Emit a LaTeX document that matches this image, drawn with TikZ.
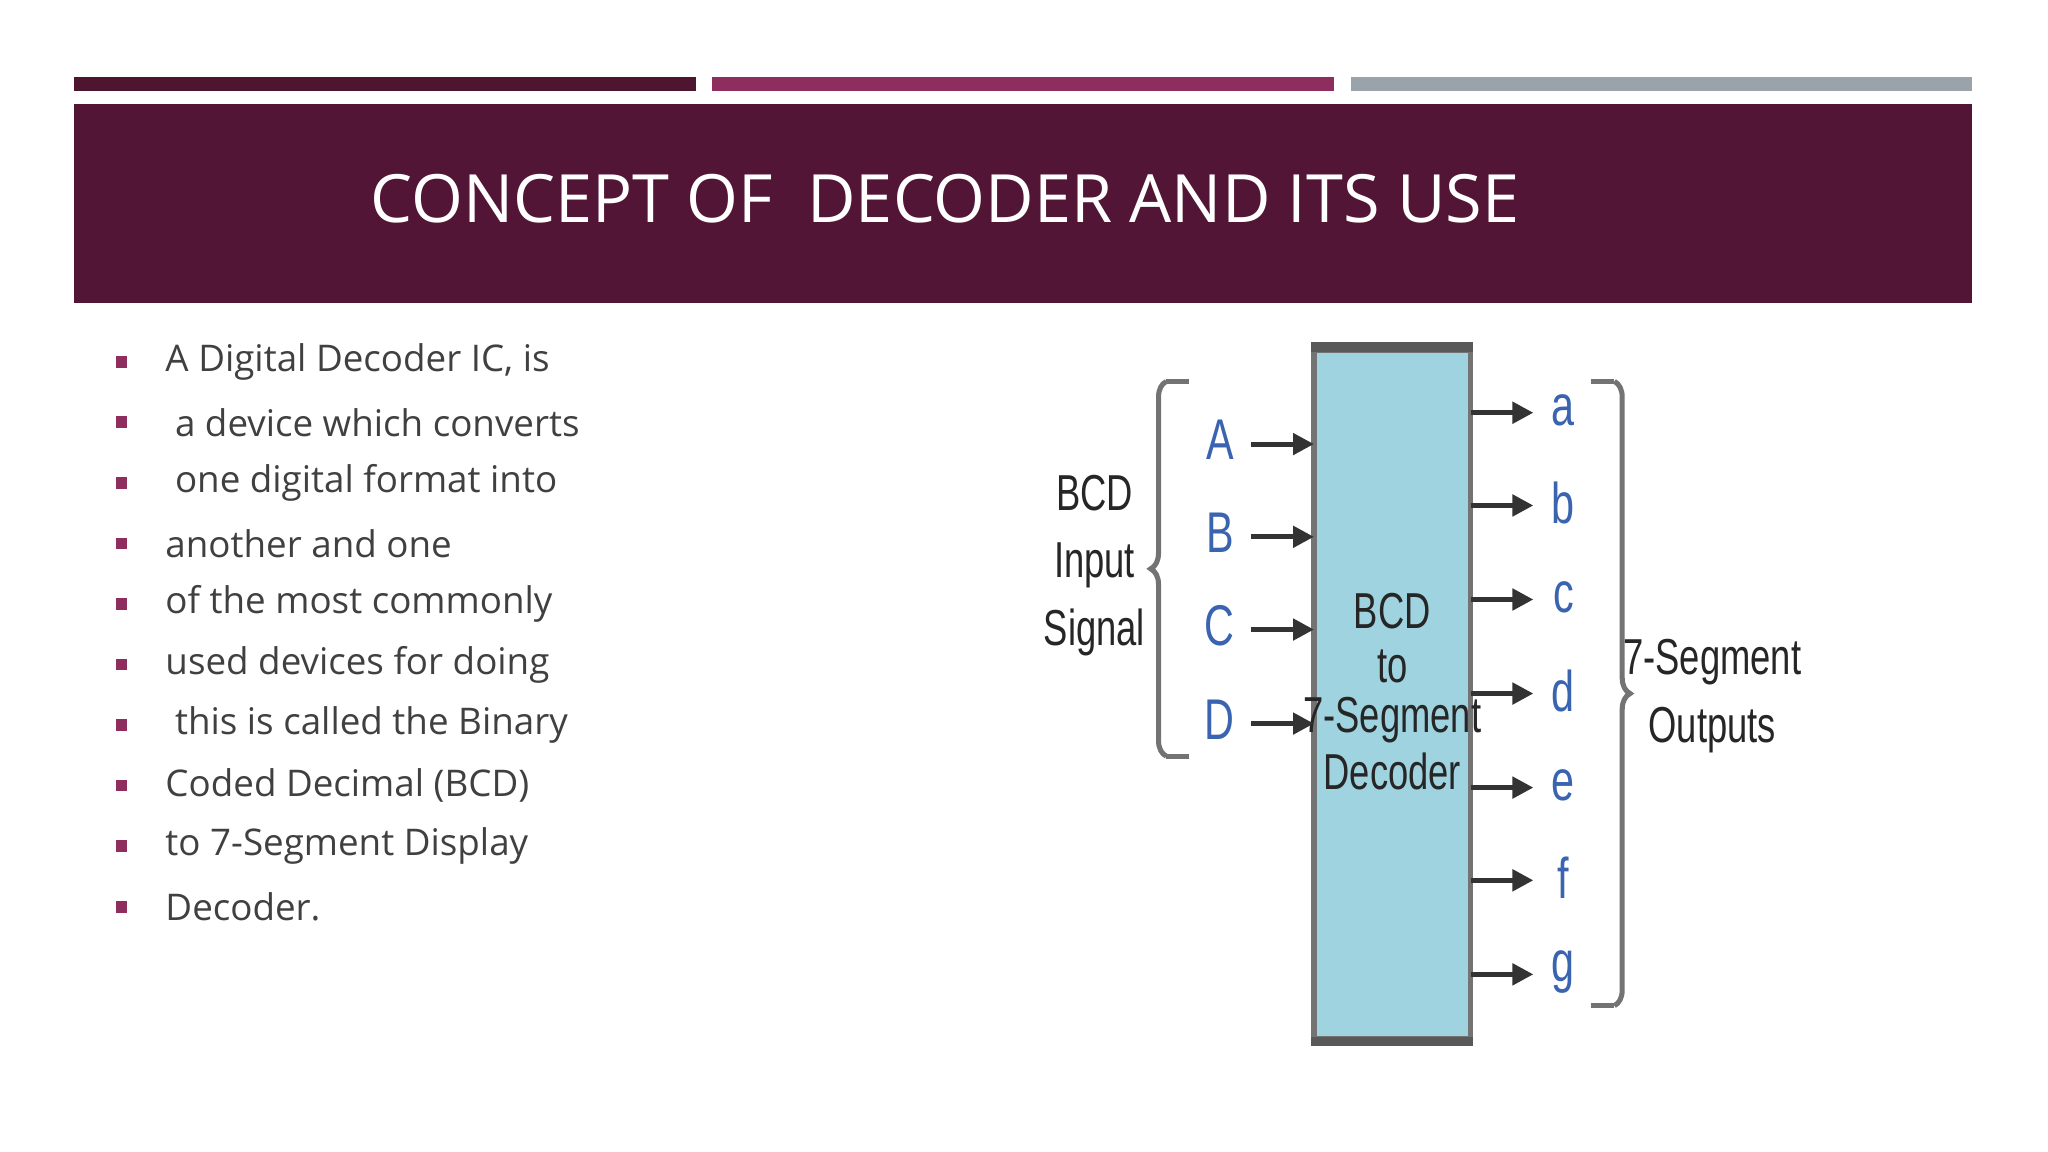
\documentclass[tikz,border=0pt]{standalone}
\usepackage{fontspec}
\setmainfont{Open Sans}
\newfontfamily\narrowf{Liberation Sans}
\usetikzlibrary{decorations.pathreplacing,arrows.meta}
\definecolor{maroon}{HTML}{521535}
\definecolor{bar1}{HTML}{4E1530}
\definecolor{bar2}{HTML}{8E2E5E}
\definecolor{bar3}{HTML}{9AA3AA}
\definecolor{boxfill}{HTML}{9FD3DF}
\definecolor{letblue}{HTML}{3A63B0}
\definecolor{bul}{HTML}{8E2E5E}
\definecolor{txt}{HTML}{404040}
\begin{document}
\begin{tikzpicture}[x=0.01cm,y=-0.01cm,
  bullettext/.style={anchor=west,font=\fontsize{8}{9}\selectfont,text=txt,inner sep=0},
  bulletmark/.style={fill=bul,minimum size=0.09cm,inner sep=0},
  inl/.style={font=\narrowf\fontsize{12.5}{13}\selectfont,text=letblue,xscale=0.72,inner sep=0},
  dlab/.style={font=\narrowf\fontsize{11}{13}\selectfont,text=black!85,xscale=0.72,align=center,inner sep=0},
  sig/.style={-{Triangle[length=0.16cm,width=0.16cm]},line width=1.1pt,black!80},
  brc/.style={decorate,decoration={brace,amplitude=0.12cm,raise=0pt},line width=1.1pt,black!55}]
\useasboundingbox (0,0) rectangle (1568,882);
\fill[white] (0,0) rectangle (1568,882);
\fill[bar1] (57,59) rectangle (533,70);
\fill[bar2] (545,59) rectangle (1021,70);
\fill[bar3] (1034,59) rectangle (1510,70);
\fill[maroon] (57,80) rectangle (1510,232);
\node[anchor=west,text=white,font=\fontsize{14.5}{16}\selectfont,inner sep=0] (title) at (283,152) {CONCEPT OF\ \ DECODER AND ITS USE};
\foreach \t [count=\i] in {A Digital Decoder IC{,} is,{\ a device which converts},{\ one digital format into},another and one,of the most commonly,used devices for doing,{\ this is called the Binary},Coded Decimal (BCD),to 7-Segment Display,Decoder.}{
  \pgfmathsetmacro\yy{277+46.35*(\i-1)}
  \node[bulletmark] (b\i) at (93,\yy) {};
  \node[bullettext] (t\i) at (126,\yy) {\t};
}
% decoder box
\node[draw=black!55,line width=1.2pt,fill=boxfill,minimum width=1.2cm,minimum height=5.27cm,inner sep=0] (dec) at (1066,531.5) {};
\draw[black!65,line width=2pt] (dec.north west) -- (dec.north east);
\draw[black!65,line width=2pt] (dec.south west) -- (dec.south east);
\node[dlab] (dt1) at (1066,468) {BCD};
\node[dlab] (dt2) at (1066,510) {to};
\node[dlab] (dt3) at (1066,551) {7-Segment};
\node[dlab] (dt4) at (1066,591) {Decoder};
% inputs
\foreach \l/\yy in {A/337,B/408,C/479,D/551}{
  \node[inl] (in\l) at (934,\yy) {\l};
  \coordinate (s\l) at (958,\yy+3);
  \coordinate (e\l) at (1006,\yy+3);
  \draw[sig] (s\l) -- (e\l);
}
% outputs
\foreach \l/\yy in {a/316,b/387,c/459,d/531,e/603,f/674,g/746}{
  \coordinate (o\l) at (1126,\yy);
  \coordinate (p\l) at (1174,\yy);
  \draw[sig] (o\l) -- (p\l);
  \node[inl] (out\l) at (1197,\yy-2) {\l};
}
% braces
\coordinate (lb1) at (893,579);
\coordinate (lb2) at (893,292);
\draw[brc] (lb1) -- (lb2);
\draw[black!55,line width=1.1pt] (893,292) -- (910,292) (893,579) -- (910,579);
\coordinate (rb1) at (1236,292);
\coordinate (rb2) at (1236,770);
\draw[brc] (rb1) -- (rb2);
\draw[black!55,line width=1.1pt] (1218,292) -- (1236,292) (1218,770) -- (1236,770);
\node[dlab] (bcdin) at (838,433) {BCD\\[0.3ex]Input\\[0.3ex]Signal};
\node[dlab] (segout) at (1311,533) {7-Segment\\[0.3ex]Outputs};
\end{tikzpicture}
\end{document}
